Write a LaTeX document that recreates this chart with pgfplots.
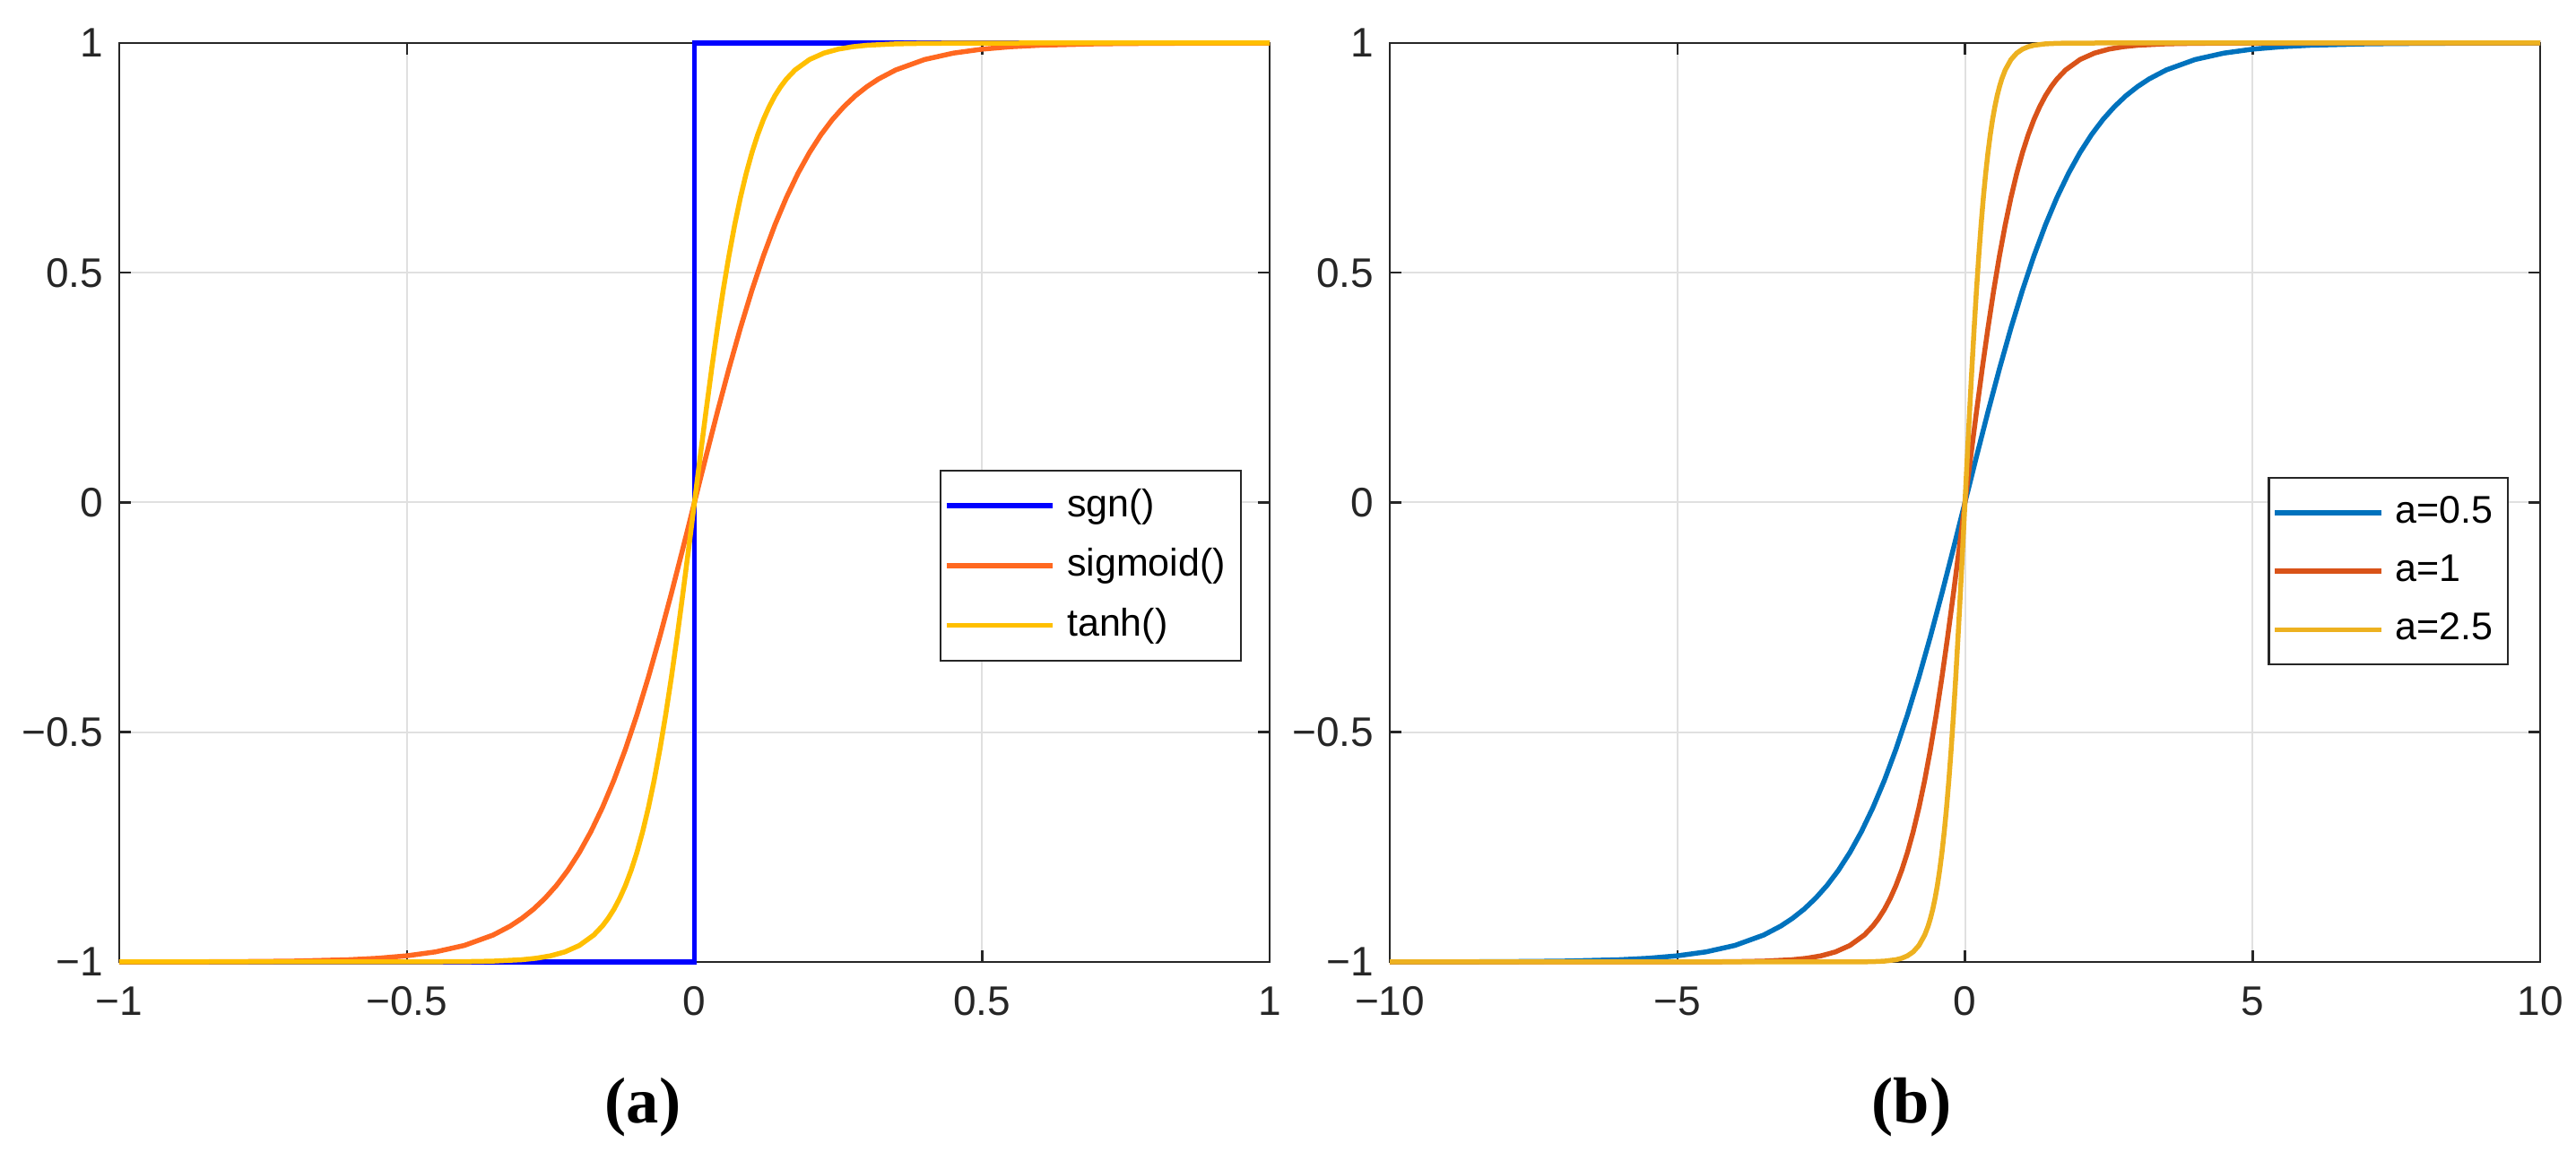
\documentclass[border=0pt]{standalone}
\usepackage{fontspec}
\setmainfont{Liberation Sans}
\newfontfamily\capfont{Liberation Serif}
\usepackage{pgfplots}
\pgfplotsset{compat=1.18}

\definecolor{axgray}{RGB}{38,38,38}
\definecolor{gridgray}{RGB}{224,224,224}
\definecolor{sgnblue}{RGB}{0,0,255}
\definecolor{sigorange}{RGB}{255,104,32}
\definecolor{tanhyellow}{RGB}{255,191,0}
\definecolor{mblue}{RGB}{0,114,189}
\definecolor{mred}{RGB}{217,83,25}
\definecolor{myellow}{RGB}{237,177,32}

\pgfplotsset{
  panel/.style={
    scale only axis, width=256.6pt, height=205pt,
    ymin=-1, ymax=1,
    ytick={-1,-0.5,0,0.5,1}, yticklabels={−1,−0.5,0,0.5,1},
    grid=major, major grid style={gridgray, line width=0.4pt},
    axis line style={axgray, line width=0.5pt},
    tick style={axgray, line width=0.5pt},
    major tick length=2.6pt, tick align=inside,
    ticklabel style={font=\fontsize{9.2}{11}\selectfont, text=axgray},
    xticklabel style={yshift=-2pt},
    clip=false,
    legend cell align=left,
    legend style={draw=axgray, line width=0.5pt, font=\fontsize{8.6}{10.5}\selectfont,
      anchor=north east, row sep=1.6pt, inner xsep=0.8pt, inner ysep=2pt,
      nodes={inner xsep=2.6pt}},
    legend image code/.code={\draw[#1, line width=1.1pt] (0pt,0pt) -- (23.7pt,0pt);},
    every axis plot/.append style={line width=1.1pt},
  }
}

\begin{document}
\begin{tikzpicture}
\useasboundingbox (0,0) rectangle (574.6pt,259pt);

% (a) activation functions on [-1,1]
\begin{axis}[panel, at={(26.6pt,44.4pt)}, anchor=south west,
  xmin=-1, xmax=1, xtick={-1,-0.5,0,0.5,1}, xticklabels={−1,−0.5,0,0.5,1},
  legend style={at={(0.976,0.536)}}]
\addplot[sgnblue] coordinates {(-1,-1) (0,-1) (0,1) (1,1)};
\addlegendentry{sgn()}
\addplot[sigorange] table {
x y
-1.00 -0.9999
-0.90 -0.9998
-0.80 -0.9993
-0.70 -0.9982
-0.60 -0.9951
-0.55 -0.9919
-0.50 -0.9866
-0.45 -0.9780
-0.40 -0.9640
-0.35 -0.9414
-0.32 -0.9217
-0.30 -0.9051
-0.28 -0.8854
-0.26 -0.8617
-0.24 -0.8337
-0.22 -0.8005
-0.20 -0.7616
-0.18 -0.7163
-0.16 -0.6640
-0.14 -0.6044
-0.12 -0.5370
-0.10 -0.4621
-0.08 -0.3799
-0.06 -0.2913
-0.04 -0.1974
-0.02 -0.0997
0.00 0.0000
0.02 0.0997
0.04 0.1974
0.06 0.2913
0.08 0.3799
0.10 0.4621
0.12 0.5370
0.14 0.6044
0.16 0.6640
0.18 0.7163
0.20 0.7616
0.22 0.8005
0.24 0.8337
0.26 0.8617
0.28 0.8854
0.30 0.9051
0.32 0.9217
0.35 0.9414
0.40 0.9640
0.45 0.9780
0.50 0.9866
0.55 0.9919
0.60 0.9951
0.70 0.9982
0.80 0.9993
0.90 0.9998
1.00 0.9999
};
\addlegendentry{sigmoid()}
\addplot[tanhyellow] table {
x y
-1.00 -1.0000
-0.60 -1.0000
-0.50 -0.9999
-0.40 -0.9993
-0.35 -0.9982
-0.30 -0.9951
-0.275 -0.9919
-0.25 -0.9866
-0.225 -0.9780
-0.20 -0.9640
-0.175 -0.9414
-0.16 -0.9217
-0.15 -0.9051
-0.14 -0.8854
-0.13 -0.8617
-0.12 -0.8337
-0.11 -0.8005
-0.10 -0.7616
-0.09 -0.7163
-0.08 -0.6640
-0.07 -0.6044
-0.06 -0.5370
-0.05 -0.4621
-0.04 -0.3799
-0.03 -0.2913
-0.02 -0.1974
-0.01 -0.0997
0.00 0.0000
0.01 0.0997
0.02 0.1974
0.03 0.2913
0.04 0.3799
0.05 0.4621
0.06 0.5370
0.07 0.6044
0.08 0.6640
0.09 0.7163
0.10 0.7616
0.11 0.8005
0.12 0.8337
0.13 0.8617
0.14 0.8854
0.15 0.9051
0.16 0.9217
0.175 0.9414
0.20 0.9640
0.225 0.9780
0.25 0.9866
0.275 0.9919
0.30 0.9951
0.35 0.9982
0.40 0.9993
0.50 0.9999
0.60 1.0000
1.00 1.0000
};
\addlegendentry{tanh()}
\end{axis}

% (b) slope parameter a on [-10,10]
\begin{axis}[panel, at={(310pt,44.4pt)}, anchor=south west,
  xmin=-10, xmax=10, xtick={-10,-5,0,5,10}, xticklabels={−10,−5,0,5,10},
  legend style={at={(0.973,0.528)}}]
\addplot[mblue] table {
x y
-10.0 -0.9999
-9.0 -0.9998
-8.0 -0.9993
-7.0 -0.9982
-6.0 -0.9951
-5.5 -0.9919
-5.0 -0.9866
-4.5 -0.9780
-4.0 -0.9640
-3.5 -0.9414
-3.2 -0.9217
-3.0 -0.9051
-2.8 -0.8854
-2.6 -0.8617
-2.4 -0.8337
-2.2 -0.8005
-2.0 -0.7616
-1.8 -0.7163
-1.6 -0.6640
-1.4 -0.6044
-1.2 -0.5370
-1.0 -0.4621
-0.8 -0.3799
-0.6 -0.2913
-0.4 -0.1974
-0.2 -0.0997
0.0 0.0000
0.2 0.0997
0.4 0.1974
0.6 0.2913
0.8 0.3799
1.0 0.4621
1.2 0.5370
1.4 0.6044
1.6 0.6640
1.8 0.7163
2.0 0.7616
2.2 0.8005
2.4 0.8337
2.6 0.8617
2.8 0.8854
3.0 0.9051
3.2 0.9217
3.5 0.9414
4.0 0.9640
4.5 0.9780
5.0 0.9866
5.5 0.9919
6.0 0.9951
7.0 0.9982
8.0 0.9993
9.0 0.9998
10.0 0.9999
};
\addlegendentry{a=0.5}
\addplot[mred] table {
x y
-10.0 -1.0000
-6.0 -1.0000
-5.0 -0.9999
-4.5 -0.9998
-4.0 -0.9993
-3.5 -0.9982
-3.0 -0.9951
-2.75 -0.9919
-2.5 -0.9866
-2.25 -0.9780
-2.0 -0.9640
-1.75 -0.9414
-1.6 -0.9217
-1.5 -0.9051
-1.4 -0.8854
-1.3 -0.8617
-1.2 -0.8337
-1.1 -0.8005
-1.0 -0.7616
-0.9 -0.7163
-0.8 -0.6640
-0.7 -0.6044
-0.6 -0.5370
-0.5 -0.4621
-0.4 -0.3799
-0.3 -0.2913
-0.2 -0.1974
-0.1 -0.0997
0.0 0.0000
0.1 0.0997
0.2 0.1974
0.3 0.2913
0.4 0.3799
0.5 0.4621
0.6 0.5370
0.7 0.6044
0.8 0.6640
0.9 0.7163
1.0 0.7616
1.1 0.8005
1.2 0.8337
1.3 0.8617
1.4 0.8854
1.5 0.9051
1.6 0.9217
1.75 0.9414
2.0 0.9640
2.25 0.9780
2.5 0.9866
2.75 0.9919
3.0 0.9951
3.5 0.9982
4.0 0.9993
4.5 0.9998
5.0 0.9999
6.0 1.0000
10.0 1.0000
};
\addlegendentry{a=1}
\addplot[myellow] table {
x y
-10.0 -1.0000
-2.4 -1.0000
-2.0 -0.9999
-1.8 -0.9998
-1.6 -0.9993
-1.4 -0.9982
-1.2 -0.9951
-1.1 -0.9919
-1.0 -0.9866
-0.9 -0.9780
-0.8 -0.9640
-0.7 -0.9414
-0.64 -0.9217
-0.6 -0.9051
-0.56 -0.8854
-0.52 -0.8617
-0.48 -0.8337
-0.44 -0.8005
-0.4 -0.7616
-0.36 -0.7163
-0.32 -0.6640
-0.28 -0.6044
-0.24 -0.5370
-0.2 -0.4621
-0.16 -0.3799
-0.12 -0.2913
-0.08 -0.1974
-0.04 -0.0997
0.0 0.0000
0.04 0.0997
0.08 0.1974
0.12 0.2913
0.16 0.3799
0.2 0.4621
0.24 0.5370
0.28 0.6044
0.32 0.6640
0.36 0.7163
0.4 0.7616
0.44 0.8005
0.48 0.8337
0.52 0.8617
0.56 0.8854
0.6 0.9051
0.64 0.9217
0.7 0.9414
0.8 0.9640
0.9 0.9780
1.0 0.9866
1.1 0.9919
1.2 0.9951
1.4 0.9982
1.6 0.9993
1.8 0.9998
2.0 0.9999
2.4 1.0000
10.0 1.0000
};
\addlegendentry{a=2.5}
\end{axis}

\node[font=\capfont\bfseries\fontsize{14.5}{16}\selectfont] at (143.4pt,12pt) {(a)};
\node[font=\capfont\bfseries\fontsize{14.5}{16}\selectfont] at (426.4pt,12pt) {(b)};
\end{tikzpicture}
\end{document}
